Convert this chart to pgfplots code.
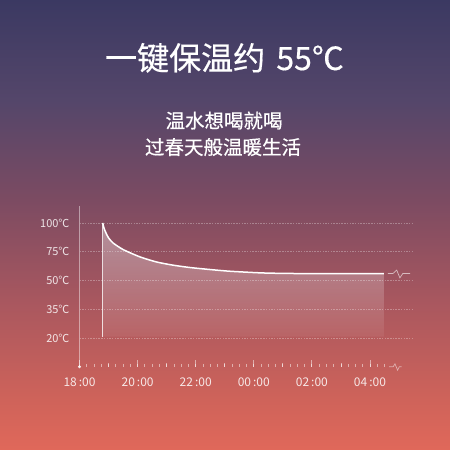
\documentclass[border=0pt]{standalone}
\usepackage{fontspec}
\setmainfont{Noto Sans CJK SC}
\newfontfamily\medfont{Noto Sans CJK SC}[FakeBold=0.5]
\usepackage{pgfplots}
\pgfplotsset{compat=1.18}
\usetikzlibrary{fadings}

\definecolor{bgA}{HTML}{3B3962}
\definecolor{bgB}{HTML}{54466A}
\definecolor{bgC}{HTML}{7C4B62}
\definecolor{bgD}{HTML}{A8575F}
\definecolor{bgE}{HTML}{CF635A}
\definecolor{bgF}{HTML}{E0685A}

% top of picture at 75bp, bottom at 25bp
\pgfdeclareverticalshading{bgshade}{100bp}{%
  color(0bp)=(bgF); color(25bp)=(bgF); color(30.56bp)=(bgE); color(41.67bp)=(bgD);
  color(52.78bp)=(bgC); color(63.89bp)=(bgB); color(75bp)=(bgA); color(100bp)=(bgA)}

\tikzfading[name=fillfade, top color=transparent!0, bottom color=transparent!85]

\begin{document}
\begin{tikzpicture}[x=1bp,y=1bp]
\shade[shading=bgshade] (0,0) rectangle (450,450);
\useasboundingbox (0,0) rectangle (450,450);

\node[anchor=base, white, font=\medfont\fontsize{32bp}{38bp}\selectfont] at (224.5,380) {一键保温约\hspace{0.35em}55℃};
\node[anchor=base, white, font=\medfont\fontsize{19.5bp}{24bp}\selectfont] at (224,322) {温水想喝就喝};
\node[anchor=base, white, font=\medfont\fontsize{19.5bp}{24bp}\selectfont] at (223,295.5) {过春天般温暖生活};

\begin{axis}[
    at={(79.5bp,83.3bp)}, anchor=south west,
    scale only axis, width=332.3bp, height=161bp,
    xmin=0, xmax=11.44, ymin=-1, ymax=4.6,
    axis x line=bottom, axis y line=left,
    x axis line style={draw=none, -},
    y axis line style={white, opacity=0.45, line width=1.2bp, -},
    xtick={0,2,...,10},
    xticklabels={18\,:00,20\,:00,22\,:00,00\,:00,02\,:00,04\,:00},
    minor xtick={0.25,0.5,...,10.5},
    extra x ticks={1,3,5,7,9}, extra x tick labels={},
    extra x tick style={major tick length=4bp},
    xtick align=inside,
    major tick length=7bp, minor tick length=2.5bp,
    xtick style={white, opacity=0.5, line width=0.8bp},
    ytick={0,1,2,3,4},
    yticklabels={20℃,35℃,50℃,75℃,100℃},
    ytick style={draw=none},
    ymajorgrids,
    grid style={white, opacity=0.3, dash pattern=on 1.5bp off 1.2bp, line width=0.7bp},
    xticklabel style={font=\fontsize{12bp}{14bp}\selectfont, text=white, text opacity=0.85, anchor=center, yshift=-16bp},
    yticklabel style={font=\fontsize{11bp}{13bp}\selectfont, text=white, text opacity=0.85, anchor=east, xshift=-3bp},
    clip=false,
]
% area under the temperature curve
\addplot[draw=none, fill=white, fill opacity=0.38, path fading=fillfade] coordinates {
    (0.8,0.05) (0.8,4) (0.85,3.80) (0.94,3.59) (1.0,3.48) (1.16,3.30) (1.51,3.07)
    (2.08,2.82) (2.66,2.64) (3.23,2.53) (3.80,2.45) (4.49,2.38) (5.18,2.32)
    (6.33,2.26) (7.59,2.24) (10.48,2.24) (10.48,0.05)
} -- cycle;

% heating spike
\addplot[white, opacity=0.8, line width=1bp] coordinates {(0.8,0.05) (0.8,4)};

% cooling curve
\addplot[white, line width=1.5bp, smooth, tension=0.4] coordinates {
    (0.8,4) (0.85,3.80) (0.94,3.59) (1.0,3.48) (1.16,3.30) (1.51,3.07)
    (2.08,2.82) (2.66,2.64) (3.23,2.53) (3.80,2.45) (4.49,2.38) (5.18,2.32)
    (6.33,2.26) (7.59,2.24) (10.48,2.24)
};

\addplot[only marks, mark=*, mark size=1.3bp, white, opacity=0.8] coordinates {(0,-1)};

% break symbols
\draw[white, opacity=0.6, line width=0.7bp] (axis cs:10.62,2.24) -- (axis cs:10.79,2.24)
    -- (axis cs:10.92,2.36) -- (axis cs:11.03,2.09) -- (axis cs:11.13,2.24) -- (axis cs:11.38,2.24);
\draw[white, opacity=0.5, line width=0.7bp] (axis cs:10.66,-1) -- (axis cs:10.8,-1)
    -- (axis cs:10.86,-0.9) -- (axis cs:10.95,-1.12) -- (axis cs:11.01,-1) -- (axis cs:11.09,-1);
\end{axis}
\end{tikzpicture}
\end{document}
